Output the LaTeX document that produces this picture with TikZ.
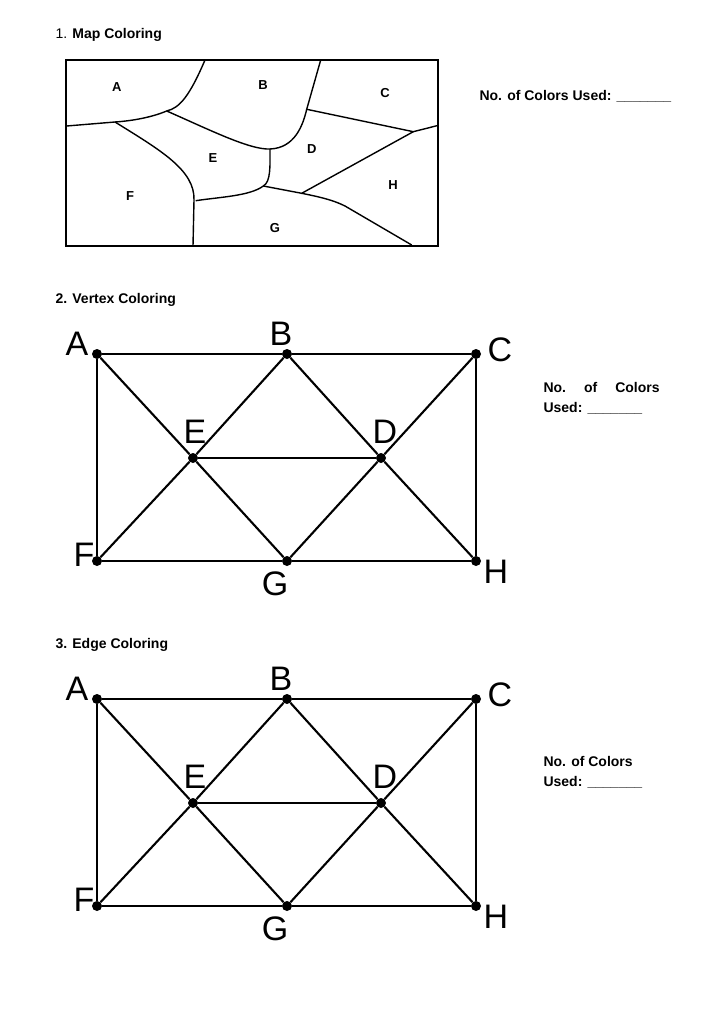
\documentclass[tikz,border=0pt]{standalone}
\usepackage{fontspec}
\setmainfont{Liberation Sans}
\begin{document}
\begin{tikzpicture}[x=1pt,y=-1pt,
  ml/.style={font=\fontsize{13}{14}\selectfont\bfseries},
  gl/.style={font=\fontsize{34}{34}\selectfont},
  tl/.style={font=\fontsize{14}{20}\selectfont\bfseries,anchor=west},
  v/.style={circle,fill=black,inner sep=0pt,minimum size=10pt},
  ed/.style={line width=2.1pt},
  mp/.style={line width=1.4pt}]
\useasboundingbox (0,0) rectangle (726,1024);
% section 1
\node[tl] (t1) at (52,35) {\mdseries 1. \bfseries Map Coloring};
\draw[mp] (66,60) rectangle (438,246);
\coordinate (jAE) at (115,122);
\coordinate (jAB) at (166.7,111);
\coordinate (jBE) at (270,149);
\coordinate (jBD) at (306.7,109.3);
\coordinate (jCD) at (413.3,131.7);
\coordinate (jDE) at (263.3,186);
\coordinate (jEF) at (195.7,200.7);
\coordinate (jDG) at (301.7,193.3);
\draw[mp] (205,60) .. controls (190,95) and (180,108) .. (jAB) .. controls (150,118) and (130,121) .. (jAE) -- (66.7,126);
\draw[mp] (jAE) .. controls (160,150) and (195,170) .. (194,200) -- (193,246);
\draw[mp] (jAB) .. controls (210,130) and (250,150) .. (jBE);
\draw[mp] (jBE) .. controls (295,148) and (303,125) .. (jBD) -- (320.7,60);
\draw[mp] (jBD) -- (jCD) -- (437,125.7);
\draw[mp] (jBE) .. controls (270,165) and (271,182) .. (jDE) .. controls (250,196) and (220,197) .. (jEF);
\draw[mp] (jDE) -- (jDG) -- (jCD);
\draw[mp] (jDG) .. controls (320,197) and (333,200) .. (345,206) -- (411.7,245);
\node[ml] (mA) at (116.7,86.7) {A};
\node[ml] (mB) at (263,85) {B};
\node[ml] (mC) at (385,92.7) {C};
\node[ml] (mD) at (311.7,149) {D};
\node[ml] (mE) at (213,158) {E};
\node[ml] (mF) at (130,196) {F};
\node[ml] (mG) at (275,228) {G};
\node[ml] (mH) at (393,185) {H};
\node[tl] (u1) at (476,96) {No. of Colors Used: \_\_\_\_\_\_\_};
% sections 2 and 3
\node[tl] (t2) at (52,300) {2. Vertex Coloring};
\node[tl] (t3) at (52,645) {3. Edge Coloring};
\node[tl,align=left] (u2) at (540,398) {No.\hspace{18pt}of\hspace{18pt}Colors\\Used: \_\_\_\_\_\_\_};
\node[tl,align=left] (u3) at (540,772) {No. of Colors\\Used: \_\_\_\_\_\_\_};
\foreach \s/\o in {g/0,h/345}{
\begin{scope}[yshift=-\o]
\node[v] (\s A) at (97,354) {};
\node[v] (\s B) at (287,354) {};
\node[v] (\s C) at (476,354) {};
\node[v] (\s E) at (193,458) {};
\node[v] (\s D) at (381,458) {};
\node[v] (\s F) at (97,561) {};
\node[v] (\s G) at (287,561) {};
\node[v] (\s H) at (476,561) {};
\draw[ed] (\s A)--(\s B)--(\s C)--(\s H)--(\s G)--(\s F)--(\s A);
\draw[ed] (\s A)--(\s E)--(\s G)--(\s D)--(\s C);
\draw[ed] (\s F)--(\s E)--(\s B)--(\s D)--(\s H);
\draw[ed] (\s E)--(\s D);
\node[gl] (\s lA) at (77,344) {A};
\node[gl] (\s lB) at (281,334) {B};
\node[gl] (\s lC) at (500,350) {C};
\node[gl] (\s lE) at (195,432) {E};
\node[gl] (\s lD) at (385,432) {D};
\node[gl] (\s lF) at (84,555) {F};
\node[gl] (\s lG) at (275,584) {G};
\node[gl] (\s lH) at (496,572) {H};
\end{scope}}
\end{tikzpicture}
\end{document}
